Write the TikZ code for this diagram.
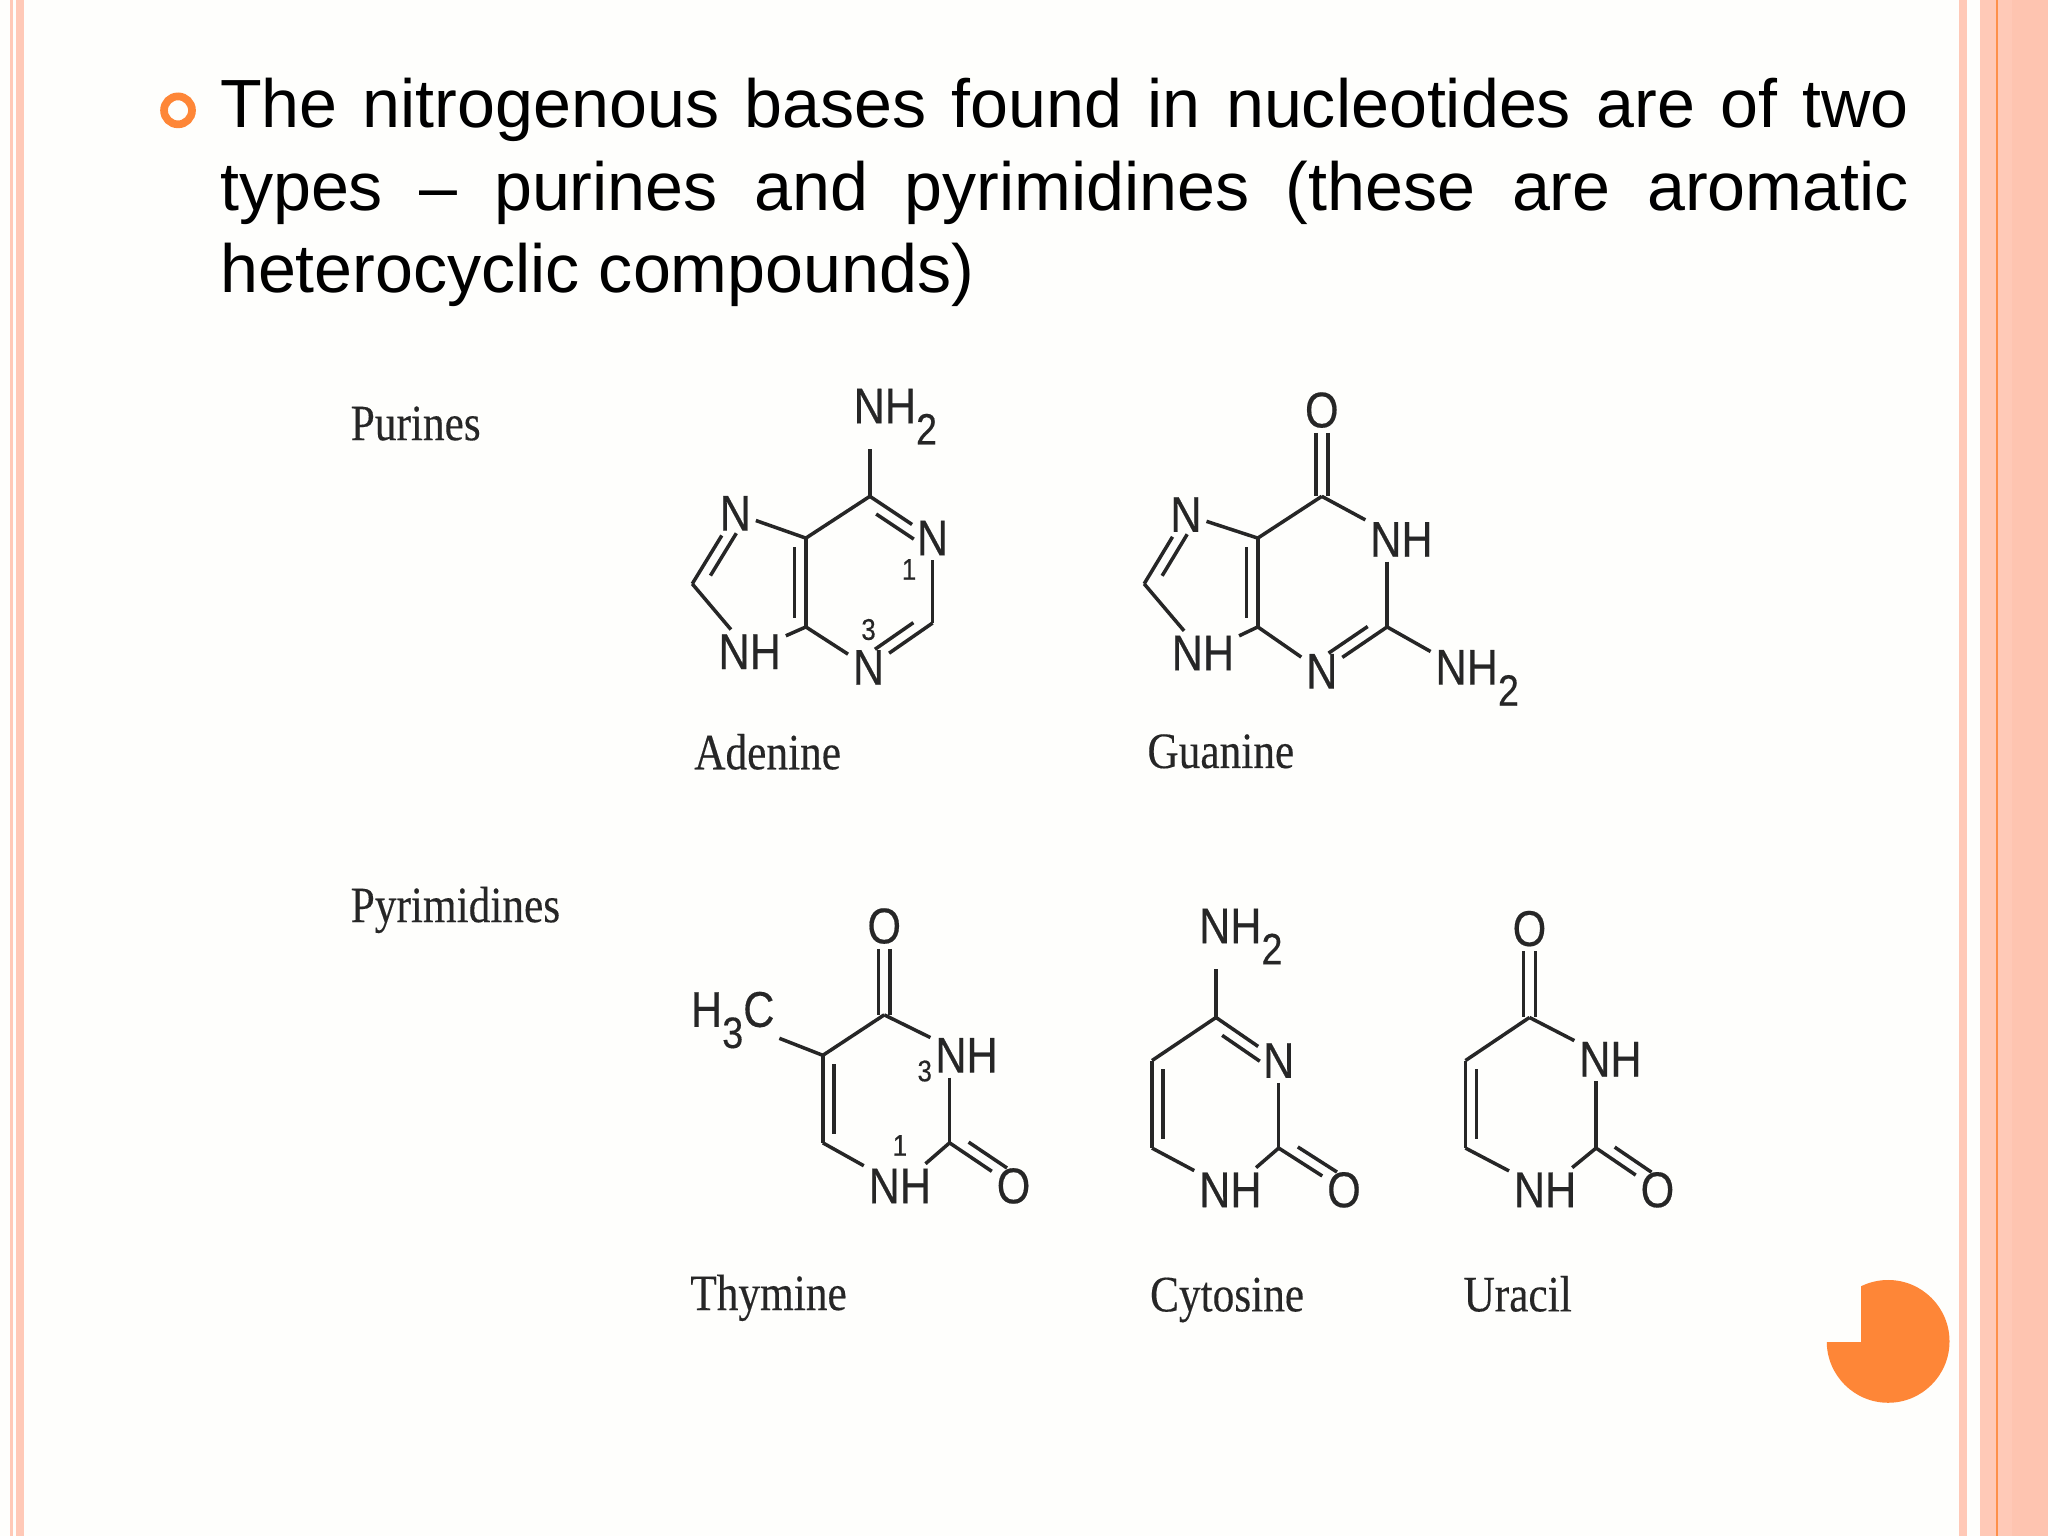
\documentclass[tikz,border=0pt]{standalone}
\usepackage{fontspec}
\usetikzlibrary{calc}
\setmainfont{Liberation Sans}
\newfontfamily\chemfont[FakeStretch=.86,FakeBold=.35]{Liberation Sans}
\newfontfamily\namefont[FakeStretch=.85,FakeBold=.25]{Liberation Serif}
\definecolor{pagebg}{HTML}{FEFEFC}
\definecolor{strip}{HTML}{FFC9B7}
\definecolor{stripdark}{HTML}{FEC4B0}
\definecolor{accent}{HTML}{FE8637}
\definecolor{ink}{HTML}{262626}
\tikzset{
  bond/.style={draw=ink,line width=1pt},
  atom/.style={font=\chemfont\fontsize{14.3}{14}\selectfont,text=ink,inner sep=1.2pt,anchor=center},
  tiny num/.style={font=\chemfont\fontsize{8.5}{9}\selectfont,text=ink,inner sep=0pt},
  molname/.style={font=\namefont\fontsize{14.5}{15}\selectfont,text=ink,inner sep=0pt,anchor=base west},
  body/.style={font=\fontsize{19.4}{19.4}\selectfont,text=black,inner sep=0pt,anchor=base west},
}
\newcommand{\sbs}[1]{\raisebox{-.42em}{\fontsize{12.5}{12.5}\selectfont #1}}
\newcommand{\sgl}[2]{\draw[bond] (#1) -- (#2);}
\newcommand{\dbl}[3]{\draw[bond] (#1) -- (#2);
  \draw[bond] ($(#1)!.2!(#2)!#3!90:(#2)$) -- ($(#2)!.2!(#1)!#3!-90:(#1)$);}
\newcommand{\dblring}[3]{\draw[bond] (#1) -- (#2);
  \draw[bond] ($(#1)!.1!(#2)!#3!90:(#2)$) -- ($(#2)!.1!(#1)!#3!-90:(#1)$);}
\newcommand{\dblsym}[2]{%
  \draw[bond] ($(#1)!1.7pt!90:(#2)$) -- ($(#2)!1.7pt!-90:(#1)$);
  \draw[bond] ($(#1)!1.7pt!-90:(#2)$) -- ($(#2)!1.7pt!90:(#1)$);}
\begin{document}
\begin{tikzpicture}[x=0.37163pt,y=-0.37163pt]
\useasboundingbox (0,0) rectangle (1568,1176);
\fill[pagebg] (0,0) rectangle (1568,1176);
% page borders
\fill[strip] (7.7,0) rectangle (10,1176);
\fill[strip] (12.3,0) rectangle (18,1176);
\fill[strip] (1500,0) rectangle (1506,1176);
\fill[strip] (1516,0) rectangle (1540.5,1176);
\fill[stripdark] (1540.5,0) rectangle (1568,1176);
\fill[accent!85!strip] (1528,0) rectangle (1529.7,1176);
% bullet
\draw[accent,line width=2.2pt] (136.3,84.5) circle[radius=10.7];
% body text
\node[body] (l1) at (168,98) {\makebox[480.5pt][s]{The nitrogenous bases found in nucleotides are of two}};
\node[body] (l2) at (168,161) {\makebox[480.5pt][s]{types – purines and pyrimidines (these are aromatic}};
\node[body] (l3) at (168,224) {heterocyclic compounds)};
% corner disc
\fill[accent] (1445.6,1027) circle[radius=47];
\fill[pagebg] (1390,970) rectangle (1425,1027.5);
% group names
\node[molname] (purines) at (268,337) {Purines};
\node[molname] (pyrimidines) at (268,706) {Pyrimidines};
\node[molname] (adeninename) at (531,589) {Adenine};
\node[molname] (guaninename) at (878,588) {Guanine};
\node[molname] (thyminename) at (528,1003) {Thymine};
\node[molname] (cytosinename) at (880,1004) {Cytosine};
\node[molname] (uracilname) at (1120,1004) {Uracil};
% ---------- Adenine
\coordinate (ac6) at (666,380);\coordinate (ac5) at (617,412);\coordinate (ac4) at (617,480);
\coordinate (ac2) at (714,477);\coordinate (ac8) at (530,447);
\node[atom] (anh2) at (685.5,319) {NH\sbs{2}};
\node[atom] (an1) at (714,412) {N};
\node[atom] (an3) at (665,511) {N};
\node[atom] (an7) at (563,393) {N};
\node[atom] (an9) at (574,499) {NH};
\node[tiny num] (anum1) at (696,436) {1};
\node[tiny num] (anum3) at (665,482) {3};
\draw[bond] (ac6) -- (ac6 |- anh2.south);
\sgl{ac6}{ac5}\dbl{ac6}{an1}{-3.2pt}\sgl{an1}{ac2}\dbl{ac2}{an3}{-3.2pt}\sgl{ac4}{an3}
\dblring{ac5}{ac4}{-3.2pt}\sgl{ac5}{an7}\dbl{an7}{ac8}{3.2pt}\sgl{ac8}{an9}\sgl{an9}{ac4}
% ---------- Guanine
\coordinate (gc6) at (1012,380);\coordinate (gc5) at (963,412);\coordinate (gc4) at (963,480);
\coordinate (gc2) at (1062,480);\coordinate (gc8) at (876,447);
\node[atom] (go) at (1012,314) {O};
\node[atom] (gn1) at (1073,413) {NH};
\node[atom] (gn3) at (1012,514) {N};
\node[atom] (gn7) at (908,394) {N};
\node[atom] (gn9) at (921,500) {NH};
\node[atom] (gnh2) at (1131,519) {NH\sbs{2}};
\dblsym{go.south}{gc6}
\sgl{gc6}{gc5}\sgl{gc6}{gn1}\draw[bond] (gc2 |- gn1.south) -- (gc2);\dbl{gc2}{gn3}{-3.2pt}\sgl{gc4}{gn3}\sgl{gc2}{gnh2}
\dblring{gc5}{gc4}{-3.2pt}\sgl{gc5}{gn7}\dbl{gn7}{gc8}{3.2pt}\sgl{gc8}{gn9}\sgl{gn9}{gc4}
% ---------- Thymine
\coordinate (tc4) at (677,777);\coordinate (tc5) at (630,808);\coordinate (tc6) at (630,875);
\coordinate (tc2) at (727,875);
\node[atom] (to4) at (677,709) {O};
\node[atom] (tch3) at (561,781) {H\sbs{3}C};
\node[atom] (tn3) at (740,808) {NH};
\node[atom] (tn1) at (689,908) {NH};
\node[atom] (to2) at (776,908) {O};
\node[tiny num] (tnum3) at (708,820) {3};
\node[tiny num] (tnum1) at (689,877) {1};
\dblsym{to4.south}{tc4}
\sgl{tc4}{tc5}\sgl{tc4}{tn3}\draw[bond] (tc2 |- tn3.south) -- (tc2);\dbl{tc2}{to2}{3.2pt}\sgl{tc2}{tn1}\sgl{tn1}{tc6}
\dblring{tc5}{tc6}{3.2pt}\sgl{tc5}{tch3}
% ---------- Cytosine
\coordinate (cc4) at (931,779);\coordinate (cc5) at (882,812);\coordinate (cc6) at (882,879);
\coordinate (cc2) at (979,879);
\node[atom] (cnh2) at (950,717) {NH\sbs{2}};
\node[atom] (cn3) at (979,812) {N};
\node[atom] (cn1) at (942,911) {NH};
\node[atom] (co2) at (1029,911) {O};
\draw[bond] (cc4) -- (cc4 |- cnh2.south);
\dbl{cc4}{cn3}{-3.2pt}\sgl{cn3}{cc2}\dbl{cc2}{co2}{3.2pt}\sgl{cc2}{cn1}\sgl{cn1}{cc6}
\dblring{cc5}{cc6}{3.2pt}\sgl{cc4}{cc5}
% ---------- Uracil
\coordinate (uc4) at (1171,779);\coordinate (uc5) at (1122,812);\coordinate (uc6) at (1122,879);
\coordinate (uc2) at (1222,879);
\node[atom] (uo4) at (1171,711) {O};
\node[atom] (un3) at (1233,811) {NH};
\node[atom] (un1) at (1183,911) {NH};
\node[atom] (uo2) at (1269,911) {O};
\dblsym{uo4.south}{uc4}
\sgl{uc4}{uc5}\sgl{uc4}{un3}\draw[bond] (uc2 |- un3.south) -- (uc2);\dbl{uc2}{uo2}{3.2pt}\sgl{uc2}{un1}\sgl{un1}{uc6}
\dblring{uc5}{uc6}{3.2pt}
\end{tikzpicture}
\end{document}
